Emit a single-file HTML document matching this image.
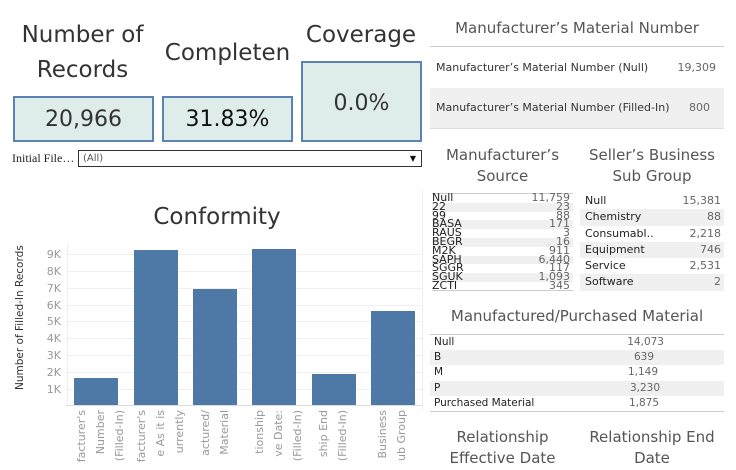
<!DOCTYPE html>
<html><head><meta charset="utf-8"><style>
*{margin:0;padding:0;box-sizing:border-box}
body{width:736px;height:454px;overflow:hidden;background:#fff;font-family:"DejaVu Sans","Liberation Sans",sans-serif;color:#333;position:relative}
.a{position:absolute}
.t{font-size:23px;color:#333;text-align:center;line-height:35px}
.box{position:absolute;background:#deedea;border:2px solid #5b82b0;text-align:center;font-size:22px;color:#333}
.h{font-size:15px;color:#555;text-align:center;line-height:21px}
.row{position:absolute;font-size:11px;color:#333}
.v{position:absolute;right:0;color:#666}
.xl{position:absolute;transform-origin:0 0;transform:rotate(-90deg);font-size:11px;color:#999;white-space:nowrap;text-align:right;width:60px;line-height:19px}
</style></head><body>
<div class="a t" style="left:0;top:18px;width:165px">Number of<br>Records</div>
<div class="a t" style="left:160px;top:36px;width:135px;overflow:hidden;white-space:nowrap">Completen</div>
<div class="a t" style="left:296px;top:18px;width:130px">Coverage</div>
<div class="box" style="left:13px;top:96px;width:141px;height:46px;line-height:44px">20,966</div>
<div class="box" style="left:162px;top:96px;width:131px;height:46px;line-height:44px;color:#111">31.83%</div>
<div class="box" style="left:301px;top:61px;width:121px;height:81px"><div style="position:absolute;top:26px;width:100%;line-height:30px">0.0%</div></div>
<div class="a" style="left:12px;top:151px;font-family:'Liberation Serif',serif;font-size:12px;color:#222">Initial File…</div>
<div class="a" style="left:78px;top:150px;width:344px;height:17px;border:1px solid #333;font-size:10px;color:#555;padding-left:4px;line-height:15px">(All)<span style="position:absolute;right:5px;top:0;font-size:8px;color:#111">▼</span></div>

<div class="a t" style="left:100px;top:200px;width:234px">Conformity</div>
<div class="a" style="left:14px;top:390px;transform-origin:0 0;transform:rotate(-90deg);font-size:10.5px;color:#333;white-space:nowrap;width:140px;text-align:center">Number of Filled-In Records</div>
<svg class="a" style="left:0;top:0" width="430" height="454">
<g stroke="#f0f0f0" stroke-width="1">
<line x1="66" x2="422" y1="254.5" y2="254.5"/><line x1="66" x2="422" y1="271.5" y2="271.5"/><line x1="66" x2="422" y1="288.5" y2="288.5"/><line x1="66" x2="422" y1="305.5" y2="305.5"/><line x1="66" x2="422" y1="321.5" y2="321.5"/><line x1="66" x2="422" y1="338.5" y2="338.5"/><line x1="66" x2="422" y1="355.5" y2="355.5"/><line x1="66" x2="422" y1="372.5" y2="372.5"/><line x1="66" x2="422" y1="389.5" y2="389.5"/>
<line x1="66" x2="422" y1="405.5" y2="405.5" stroke="#ddd"/>
<line x1="67.5" x2="67.5" y1="243" y2="405"/>
</g>
<g font-size="11" fill="#999" text-anchor="end" font-family="DejaVu Sans,sans-serif">
<text x="61" y="258">9K</text><text x="61" y="275">8K</text><text x="61" y="292">7K</text><text x="61" y="309">6K</text><text x="61" y="325">5K</text><text x="61" y="342">4K</text><text x="61" y="359">3K</text><text x="61" y="376">2K</text><text x="61" y="393">1K</text>
</g>
<g fill="#4e78a6">
<rect x="74" y="378" width="44" height="27"/><rect x="134" y="250" width="44" height="155"/><rect x="193" y="289" width="44" height="116"/><rect x="252" y="249" width="44" height="156"/><rect x="312" y="374" width="44" height="31"/><rect x="371" y="311" width="44" height="94"/>
</g>
</svg>
<div class="xl" style="left:72px;top:470px">facturer's<br>Number<br>(Filled-In)</div>
<div class="xl" style="left:132px;top:470px">facturer's<br>e As it is<br>urrently</div>
<div class="xl" style="left:196px;top:470px">actured/<br>Material</div>
<div class="xl" style="left:250px;top:470px">tionship<br>ve Date:<br>(Filled-In)</div>
<div class="xl" style="left:314px;top:470px">ship End<br>(Filled-In)</div>
<div class="xl" style="left:373px;top:470px">Business<br>ub Group</div>
<div class="a" style="left:422px;top:190px;width:1px;height:220px;background:#eee"></div>

<!-- right -->
<div class="a h" style="left:430px;top:18px;width:294px">Manufacturer’s Material Number</div>
<div class="a" style="left:430px;top:46px;width:294px;height:1px;background:#ccc"></div>
<div class="row" style="left:430px;top:47px;width:294px;height:41px;line-height:41px;padding:0 6px"><span>Manufacturer’s Material Number (Null)</span><span class="v" style="right:8px">19,309</span></div>
<div class="row" style="left:430px;top:88px;width:294px;height:40px;line-height:40px;padding:0 6px;background:#f0f0f0"><span>Manufacturer’s Material Number (Filled-In)</span><span class="v" style="right:14px">800</span></div>
<div class="a" style="left:430px;top:128px;width:294px;height:1px;background:#ddd"></div>

<div class="a h" style="left:430px;top:145px;width:145px">Manufacturer’s<br>Source</div>
<div class="a h" style="left:578px;top:145px;width:148px">Seller’s Business<br>Sub Group</div>
<div class="a" style="left:432px;top:193px;width:141px;height:98px;border-top:1px solid #ccc;border-bottom:1px solid #ccc;font-size:11px;line-height:8.8px;color:#222">
<div style="position:relative;height:8.8px">Null<span class="v" style="right:3px">11,759</span></div>
<div style="position:relative;height:8.8px;background:#f0f0f0">22<span class="v" style="right:3px">23</span></div>
<div style="position:relative;height:8.8px">99<span class="v" style="right:3px">88</span></div>
<div style="position:relative;height:8.8px;background:#f0f0f0">BASA<span class="v" style="right:3px">171</span></div>
<div style="position:relative;height:8.8px">RAUS<span class="v" style="right:3px">3</span></div>
<div style="position:relative;height:8.8px;background:#f0f0f0">BEGR<span class="v" style="right:3px">16</span></div>
<div style="position:relative;height:8.8px">M2K<span class="v" style="right:3px">911</span></div>
<div style="position:relative;height:8.8px;background:#f0f0f0">SAPH<span class="v" style="right:3px">6,440</span></div>
<div style="position:relative;height:8.8px">SGGR<span class="v" style="right:3px">117</span></div>
<div style="position:relative;height:8.8px;background:#f0f0f0">SGUK<span class="v" style="right:3px">1,093</span></div>
<div style="position:relative;height:8.8px">ZCTI<span class="v" style="right:3px">345</span></div>
</div>
<div class="a" style="left:580px;top:193px;width:144px;height:98px;border-bottom:1px solid #ccc;font-size:11px;line-height:16.3px;color:#222">
<div style="position:relative;height:16.3px;padding-left:5px">Null<span class="v" style="right:3px">15,381</span></div>
<div style="position:relative;height:16.3px;padding-left:5px;background:#f0f0f0">Chemistry<span class="v" style="right:3px">88</span></div>
<div style="position:relative;height:16.3px;padding-left:5px">Consumabl..<span class="v" style="right:3px">2,218</span></div>
<div style="position:relative;height:16.3px;padding-left:5px;background:#f0f0f0">Equipment<span class="v" style="right:3px">746</span></div>
<div style="position:relative;height:16.3px;padding-left:5px">Service<span class="v" style="right:3px">2,531</span></div>
<div style="position:relative;height:16.3px;padding-left:5px;background:#f0f0f0">Software<span class="v" style="right:3px">2</span></div>
</div>

<div class="a h" style="left:430px;top:306px;width:294px">Manufactured/Purchased Material</div>
<div class="a" style="left:430px;top:334px;width:294px;height:78px;border-top:1px solid #ccc;border-bottom:1px solid #ccc;font-size:10.5px;line-height:15.2px;color:#222">
<div style="position:relative;height:15.2px;padding-left:4px">Null<span class="v" style="right:60px">14,073</span></div>
<div style="position:relative;height:15.2px;padding-left:4px;background:#f0f0f0">B<span class="v" style="right:70px">639</span></div>
<div style="position:relative;height:15.2px;padding-left:4px">M<span class="v" style="right:66px">1,149</span></div>
<div style="position:relative;height:15.2px;padding-left:4px;background:#f0f0f0">P<span class="v" style="right:64px">3,230</span></div>
<div style="position:relative;height:15.2px;padding-left:4px">Purchased Material<span class="v" style="right:65px">1,875</span></div>
</div>
<div class="a h" style="left:430px;top:427px;width:145px;line-height:21px">Relationship<br>Effective Date</div>
<div class="a h" style="left:578px;top:427px;width:148px;line-height:21px">Relationship End<br>Date</div>
</body></html>
